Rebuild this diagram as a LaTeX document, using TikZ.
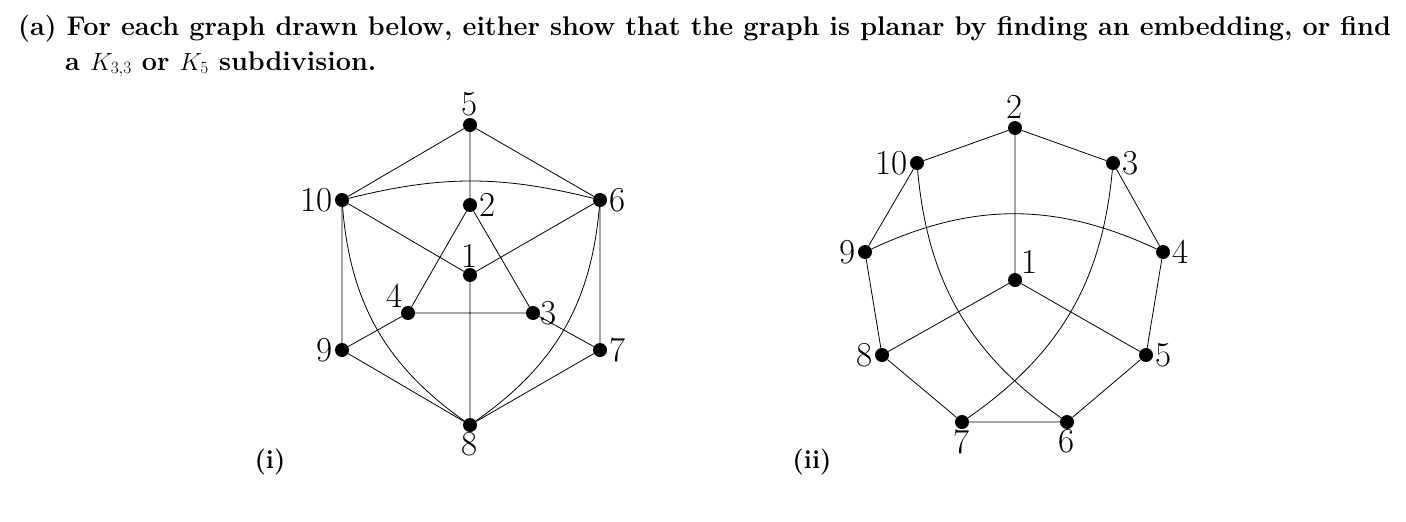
\documentclass[tikz,border=0pt]{standalone}
\begin{document}
\begin{tikzpicture}[x=1pt,y=-1pt,
  v/.style={circle,fill=black,inner sep=0pt,minimum size=14pt},
  lab/.style={font=\fontsize{35}{38}\selectfont,inner sep=2pt},
  e/.style={line width=0.8pt}]
\useasboundingbox (0,0) rectangle (1406,522);
\node[anchor=base west,inner sep=0pt,font=\fontsize{27}{32}\selectfont\bfseries] (h1) at (18,35) {(a) For each graph drawn below, either show that the graph is planar by finding an embedding, or find};
\node[anchor=base west,inner sep=0pt,font=\fontsize{27}{32}\selectfont\bfseries] (h2) at (65,70) {a $K_{3,3}$ or $K_5$ subdivision.};
\node[anchor=base,font=\fontsize{26}{30}\selectfont\bfseries] (li) at (270,468) {(i)};
\node[anchor=base,font=\fontsize{26}{30}\selectfont\bfseries] (lii) at (812,468) {(ii)};
% graph (i)
\node[v,label={[lab]above:5}] (a5) at (470,125) {};
\node[v,label={[lab]left:10}] (a10) at (342,200) {};
\node[v,label={[lab]right:6}] (a6) at (600,200) {};
\node[v,label={[lab]right:2}] (a2) at (470,205) {};
\node[v,label={[lab,inner sep=0pt]above:1}] (a1) at (470,275) {};
\node[v,label={[lab,inner sep=0pt]above left:4}] (a4) at (408,313) {};
\node[v,label={[lab,inner sep=0pt]right:3}] (a3) at (533,313) {};
\node[v,label={[lab]left:9}] (a9) at (342,350) {};
\node[v,label={[lab]right:7}] (a7) at (600,350) {};
\node[v,label={[lab,inner sep=0pt]below:8}] (a8) at (470,425) {};
\draw[e] (a5)--(a10) (a5)--(a6) (a5)--(a2) (a10)--(a1) (a6)--(a1)
 (a2)--(a4) (a2)--(a3) (a4)--(a3) (a1)--(a8) (a10)--(a9) (a6)--(a7)
 (a9)--(a4) (a7)--(a3) (a9)--(a8) (a7)--(a8);
\draw[e] (a10) to[bend left=14] (a6);
\draw[e] (a10) to[bend right=25] (a8);
\draw[e] (a6) to[bend left=25] (a8);
% graph (ii)
\node[v,label={[lab]above:2}] (b2) at (1015,128) {};
\node[v,label={[lab]left:10}] (b10) at (917,163) {};
\node[v,label={[lab]right:3}] (b3) at (1113,163) {};
\node[v,label={[lab]left:9}] (b9) at (865,252) {};
\node[v,label={[lab]right:4}] (b4) at (1163,252) {};
\node[v,label={[lab,inner sep=1pt]above right:1}] (b1) at (1015,280) {};
\node[v,label={[lab]left:8}] (b8) at (882,355) {};
\node[v,label={[lab]right:5}] (b5) at (1146,355) {};
\node[v,label={[lab,inner sep=0pt]below:7}] (b7) at (962,422) {};
\node[v,label={[lab,inner sep=0pt]below:6}] (b6) at (1067,422) {};
\draw[e] (b2)--(b3)--(b4)--(b5)--(b6)--(b7)--(b8)--(b9)--(b10)--(b2)
 (b1)--(b2) (b1)--(b8) (b1)--(b5);
\draw[e] (b9) to[bend left=25] (b4);
\draw[e] (b10) to[bend right=25] (b6);
\draw[e] (b3) to[bend left=25] (b7);
\end{tikzpicture}
\end{document}
